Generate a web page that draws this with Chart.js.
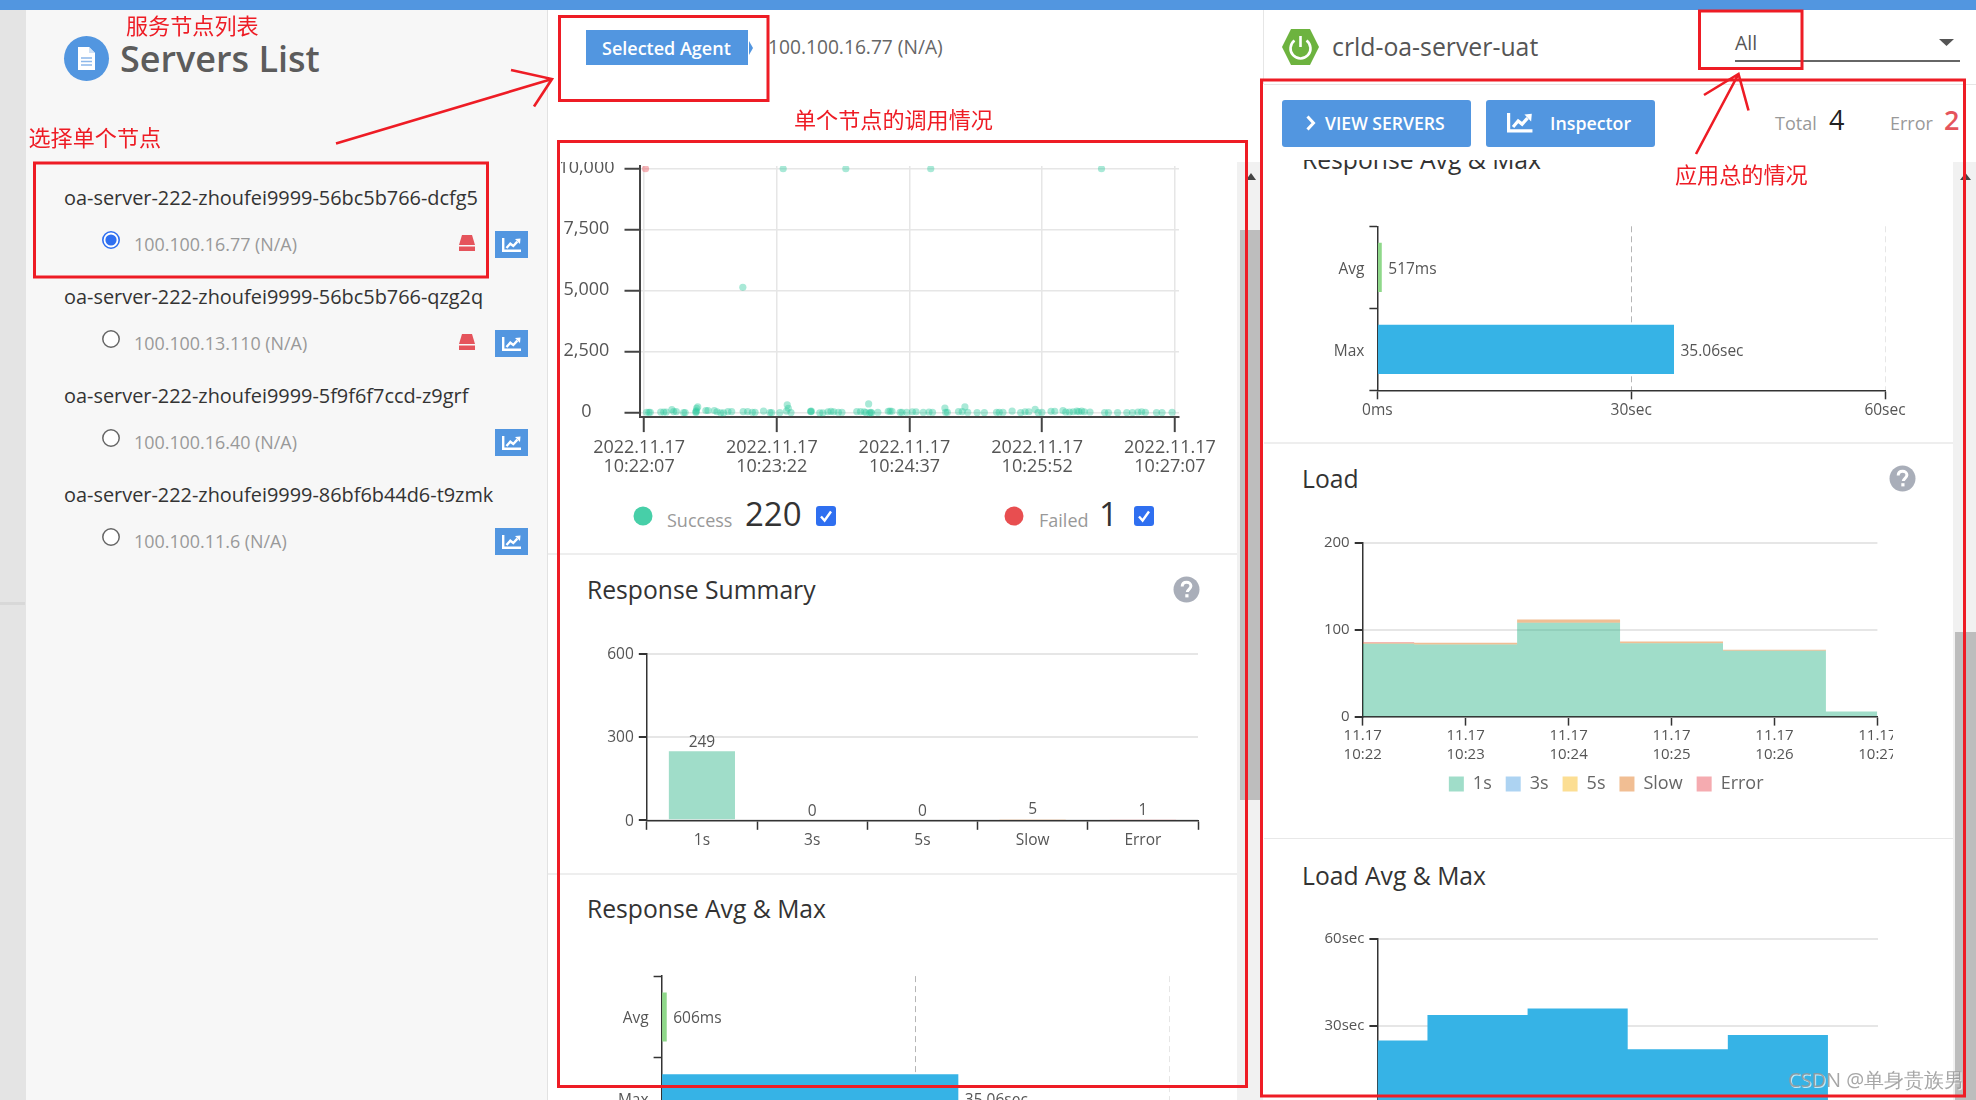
<!DOCTYPE html>
<html lang="en">
<head>
<meta charset="utf-8">
<title>Servers List</title>
<script src="https://cdn.jsdelivr.net/npm/chart.js@4/dist/chart.umd.min.js"></script>
<style>
  html, body { margin: 0; padding: 0; background: #fff; overflow: hidden; }
  #page { position: relative; width: 1976px; height: 1100px; overflow: hidden; background: #fff;
          font-family: 'Open Sans', sans-serif; color: #333; }
  .box { position: absolute; }
  .t { position: absolute; white-space: nowrap; line-height: 1; transform: translateY(-50%); }
  .title { font-size: 24.7px; font-weight: 500; color: #333; }
  .red { color: #ee1c25; font-size: 22.1px; font-family: 'Noto Sans CJK SC', sans-serif; }
  canvas { position: absolute; }
  svg { position: absolute; overflow: visible; }
</style>
</head>
<body>
<div id="page">
  <!-- ── PANELS ─────────────────────────────────────────── -->
  <div class="box" style="left:0;top:0;width:26px;height:1100px;background:#e4e4e4"></div>
  <div class="box" style="left:0;top:602px;width:25px;height:3px;background:#d8d8d8"></div>
  <div class="box" style="left:26px;top:0;width:521px;height:1100px;background:#f7f7f7"></div>
  <div class="box" style="left:547px;top:0;width:1px;height:1100px;background:#e2e2e2"></div>
  <div class="box" style="left:1263px;top:0;width:1px;height:84px;background:#e6e6e6"></div>
  <div class="box" style="left:1264px;top:84px;width:712px;height:1px;background:#e6e6e6"></div>
  <div class="box" style="left:548px;top:553px;width:689px;height:2px;background:#eee"></div>
  <div class="box" style="left:548px;top:873px;width:689px;height:2px;background:#eee"></div>
  <div class="box" style="left:1264px;top:442px;width:689px;height:2px;background:#eee"></div>
  <div class="box" style="left:1264px;top:838px;width:689px;height:1px;background:#e8e8e8"></div>

  <!-- scrollbars -->
  <div class="box" style="left:1237px;top:162px;width:26px;height:938px;background:#f1f1f1"></div>
  <div class="box" style="left:1240px;top:230px;width:22px;height:570px;background:#bdbdbd"></div>
  <div class="box" style="left:1953px;top:162px;width:23px;height:938px;background:#f1f1f1"></div>
  <div class="box" style="left:1955px;top:632px;width:21px;height:468px;background:#bdbdbd"></div>
  <svg style="left:0;top:0" width="1976" height="1100">
    <polygon points="1246,180 1256,180 1251,173" fill="#444"/>
    <polygon points="1960,180 1971,180 1965.5,173" fill="#444"/>
  </svg>

  <!-- top bar -->
  <div class="box" style="left:0;top:0;width:1976px;height:10px;background:#5296e0"></div>

  <!-- ── LEFT COLUMN ────────────────────────────────────── -->
  <svg style="left:64px;top:36px" width="45" height="45" viewBox="0 0 45 45">
    <circle cx="22.5" cy="22.5" r="22.5" fill="#5296e0"/>
    <path d="M14 11h11l6 6v17H14z" fill="#fff"/>
    <path d="M25 11v6h6" fill="#cfe1f6"/>
    <path d="M17 22h11M17 25.5h11M17 29h11" stroke="#8db8ea" stroke-width="1.4"/>
  </svg>
  <div class="t" style="left:120px;top:59px;font-size:36px;font-weight:600;color:#5c5c5c">Servers List</div>
  <div id="serverRows"></div>

  <!-- ── MIDDLE COLUMN ──────────────────────────────────── -->
  <div class="box" style="left:586px;top:30px;width:162px;height:35px;background:#5296e0"></div>
  <svg style="left:748px;top:41px" width="6" height="14"><polygon points="1,0 5,7 1,14" fill="#5296e0"/></svg>
  <div class="t" style="left:602px;top:47.5px;font-size:18px;font-weight:600;color:#fff">Selected Agent</div>
  <div class="t" style="left:768px;top:47px;font-size:19.2px;color:#666">100.100.16.77 (N/A)</div>

  <canvas id="chart-scatter" width="669" height="315" style="left:561px;top:162px;filter:blur(.6px)"></canvas>

  <svg style="left:634px;top:506px" width="20" height="20"><circle cx="9" cy="10" r="9.5" fill="#47cfa8"/></svg>
  <div class="t" style="left:667px;top:520px;font-size:18px;color:#999">Success</div>
  <div class="t" style="left:745px;top:513px;font-size:33px;color:#333">220</div>
  <svg style="left:816px;top:506px" width="20" height="20"><use href="#icon-check"/></svg>
  <svg style="left:1005px;top:506px" width="20" height="20"><circle cx="9" cy="10" r="9.5" fill="#e84e50"/></svg>
  <div class="t" style="left:1039px;top:520px;font-size:18px;color:#999">Failed</div>
  <div class="t" style="left:1099px;top:513px;font-size:33px;color:#333">1</div>
  <svg style="left:1134px;top:506px" width="20" height="20"><use href="#icon-check"/></svg>

  <div class="t title" style="left:587px;top:590px">Response Summary</div>
  <svg style="left:1173px;top:576px" width="27" height="27"><use href="#icon-help"/></svg>
  <canvas id="chart-summary" width="630" height="220" style="left:600px;top:640px"></canvas>

  <div class="t title" style="left:587px;top:909px">Response Avg &amp; Max</div>
  <canvas id="chart-agent-avg" width="630" height="210" style="left:600px;top:970px"></canvas>

  <!-- ── RIGHT COLUMN ───────────────────────────────────── -->
  <svg style="left:1282px;top:29px" width="37" height="36" viewBox="0 0 37 36">
    <polygon points="9,0 28,0 37,18 28,36 9,36 0,18" fill="#6db33f"/>
    <path d="M12.5 11.5a10 10 0 1 0 12 0" fill="none" stroke="#fff" stroke-width="2.6"/>
    <path d="M18.5 7v11" stroke="#fff" stroke-width="2.6"/>
  </svg>
  <div class="t" style="left:1332px;top:46px;font-size:24.8px;font-weight:500;color:#555">crld-oa-server-uat</div>
  <div class="t" style="left:1735px;top:43px;font-size:19.5px;color:#555">All</div>
  <div class="box" style="left:1735px;top:60px;width:225px;height:2px;background:#666"></div>
  <svg style="left:1939px;top:39px" width="15" height="8"><polygon points="0,0 15,0 7.5,7" fill="#555"/></svg>

  <div class="box" style="left:1282px;top:100px;width:189px;height:47px;background:#5296e0;border-radius:3px"></div>
  <svg style="left:1305px;top:115px" width="11" height="16"><path d="M2.5 1.5l6 6.5-6 6.5" fill="none" stroke="#fff" stroke-width="3"/></svg>
  <div class="t" style="left:1325px;top:124px;font-size:17.6px;font-weight:600;color:#fff">VIEW SERVERS</div>
  <div class="box" style="left:1486px;top:100px;width:169px;height:47px;background:#5296e0;border-radius:3px"></div>
  <svg style="left:1507px;top:113px" width="26" height="20"><use href="#icon-chart-line" transform="scale(1.34,1.4)"/></svg>
  <div class="t" style="left:1550px;top:124px;font-size:17.8px;font-weight:600;color:#fff">Inspector</div>
  <div class="t" style="left:1775px;top:123px;font-size:18px;color:#999">Total</div>
  <div class="t" style="left:1829px;top:119px;font-size:27px;color:#222">4</div>
  <div class="t" style="left:1890px;top:123px;font-size:18px;color:#999">Error</div>
  <div class="t" style="left:1944px;top:119px;font-size:27px;font-weight:600;color:#e5545c">2</div>

  <div class="box" style="left:1264px;top:159.5px;width:680px;height:30px;overflow:hidden">
    <div class="t title" style="left:38px;top:0">Response Avg &amp; Max</div>
  </div>
  <canvas id="chart-app-avg" width="630" height="215" style="left:1310px;top:215px"></canvas>

  <div class="t title" style="left:1302px;top:479px">Load</div>
  <svg style="left:1889px;top:465px" width="27" height="27"><use href="#icon-help"/></svg>
  <canvas id="chart-load" width="584" height="274" style="left:1309px;top:530px"></canvas>

  <div class="t title" style="left:1302px;top:875.5px">Load Avg &amp; Max</div>
  <canvas id="chart-load-avg" width="630" height="228" style="left:1310px;top:925px"></canvas>

  <!-- ── RED NOTES ──────────────────────────────────────── -->
  <svg style="left:0;top:0" width="1976" height="1100" fill="none" stroke="#ee1c25" stroke-width="3">
    <rect x="34.5" y="163" width="453" height="114"/>
    <rect x="559.5" y="16.5" width="208.5" height="84"/>
    <rect x="558.5" y="141.5" width="688" height="945"/>
    <rect x="1261.5" y="80" width="703" height="1016"/>
    <rect x="1699.5" y="11" width="102.5" height="57.5"/>
    <path d="M336 143.5L552 79M511 70L552 79L534 106.5" stroke-width="2.6"/>
    <path d="M1696 154L1738.5 74M1704 95L1738.5 74L1748.5 110.5" stroke-width="2.6"/>
  </svg>
  <div class="t red" style="left:126px;top:24px">服务节点列表</div>
  <div class="t red" style="left:28.5px;top:136px">选择单个节点</div>
  <div class="t red" style="left:794px;top:118px">单个节点的调用情况</div>
  <div class="t red" style="left:1675px;top:173px">应用总的情况</div>

  <div class="t" style="left:1788px;top:1080px;font-size:20px;color:rgba(150,150,150,.85);text-shadow:1px 1px 0 rgba(255,255,255,.7)">CSDN @单身贵族男</div>

  <!-- shared icons -->
  <svg width="0" height="0" style="left:0;top:0">
    <defs>
      <g id="icon-chart-line" fill="none" stroke="#fff">
        <path d="M1.2 0v12.8h17.8" stroke-width="2.4"/>
        <path d="M4.5 10l3.8-4.3 3 2.3 4-4.4" stroke-width="2.4"/>
        <polygon points="13,1 18.5,0.6 18,6" fill="#fff" stroke="none"/>
      </g>
      <g id="icon-check">
        <rect width="20" height="20" rx="3" fill="#2f6ff0"/>
        <path d="M5 10.5l3.6 4L15 5.5" fill="none" stroke="#fff" stroke-width="2.4"/>
      </g>
      <g id="icon-help">
        <circle cx="13.5" cy="13.5" r="13" fill="#a9aeb9"/>
        <path d="M9.2 10.5c0-2.8 2-4.2 4.4-4.2s4.3 1.4 4.3 3.8c0 3.2-3.6 3.3-3.6 6" fill="none" stroke="#fff" stroke-width="3"/>
        <rect x="12.3" y="18.2" width="3.2" height="3.2" fill="#fff"/>
      </g>
    </defs>
  </svg>
</div>

<script>
'use strict';

// ── SERVER LIST ──────────────────────────────────────────────────────────────
const serverNames = [
  'oa-server-222-zhoufei9999-56bc5b766-dcfg5',
  'oa-server-222-zhoufei9999-56bc5b766-qzg2q',
  'oa-server-222-zhoufei9999-5f9f6f7ccd-z9grf',
  'oa-server-222-zhoufei9999-86bf6b44d6-t9zmk',
];
const serverIps = ['100.100.16.77 (N/A)', '100.100.13.110 (N/A)', '100.100.16.40 (N/A)', '100.100.11.6 (N/A)'];
const serverHasError = [true, true, false, false];

// ── SCATTER DATA (seconds after 10:22:07, response ms) ───────────────────────
const successSeconds = [
  1.4, 2.7, 3.5, 9.4, 11.1, 12.5, 15.7, 16.7, 18.2, 22.3, 23.2, 29.3, 29.3, 29.5, 29.7, 30.3,
  34.9, 36.1, 39.7, 41.2, 43.3, 44.9, 47.4, 49.5, 55.8, 56, 58.5, 61.2, 62.7, 67.5, 71.1, 72.1,
  76.7, 78.6, 80.5, 80.9, 81.5, 83, 94.1, 94.3, 94.5, 99.3, 101, 103.9, 105.6, 107.2, 109.8, 111.8,
  114, 120.2, 122.3, 124.4, 125.4, 126.9, 127.5, 128.1, 128.6, 132.1, 138, 139, 140.1, 144.7, 145.7,
  148.4, 151.6, 153.7, 157.8, 161, 162, 163, 170, 170.4, 171.4, 177.7, 179.8, 181.3, 182.9, 188.2,
  192.3, 199.2, 200.7, 202.8, 208, 212.8, 215.3, 217.4, 221, 222.7, 224.8, 230, 232.1, 236.7, 238.3,
  240.4, 242.5, 244.6, 245.7, 247.3, 248.8, 252, 258.5, 260.3, 262.4, 267.6, 272.8, 276, 279.1,
  281.2, 283.3, 289.6, 292.7, 298.4,
];
const successMillis = [
  40, 40, 40, 50, 50, 50, 150, 70, 70, 30, 30, 30, 60, 100, 200, 260,
  110, 110, 110, 60, 20, 20, 70, 70, 5150, 70, 70, 40, 40, 90, 30, 30,
  30, 10000, 90, 340, 200, 30, 80, 60, 90, 20, 20, 60, 80, 60, 40, 40,
  10000, 70, 70, 60, 30, 380, 20, 40, 20, 40, 80, 90, 80, 40, 40,
  40, 60, 60, 40, 50, 10000, 40, 210, 40, 40, 70, 70, 260, 40, 30,
  30, 40, 40, 40, 90, 30, 60, 60, 160, 30, 40, 80, 80, 110, 50,
  50, 60, 90, 70, 90, 60, 50, 10000, 30, 30, 30, 30, 30, 50,
  60, 40, 30, 30, 40,
];
const failedSeconds = [0.8];
const failedMillis = [10000];
const scatterTickSeconds = [0, 75, 150, 225, 300];
const scatterTickTimes = ['10:22:07', '10:23:22', '10:24:37', '10:25:52', '10:27:07'];
const scatterTickValues = [0, 2500, 5000, 7500, 10000];

// ── RESPONSE SUMMARY ─────────────────────────────────────────────────────────
const summaryCategories = ['1s', '3s', '5s', 'Slow', 'Error'];
const summaryValues = [249, 0, 0, 5, 1];

// ── AVG & MAX (seconds) ──────────────────────────────────────────────────────
const avgMaxCategories = ['Avg', 'Max'];
const agentAvgMax = [0.606, 35.06];
const agentAvgMaxText = ['606ms', '35.06sec'];
const appAvgMax = [0.517, 35.06];
const appAvgMaxText = ['517ms', '35.06sec'];

// ── LOAD ─────────────────────────────────────────────────────────────────────
const loadTimes = ['10:22', '10:23', '10:24', '10:25', '10:26', '10:27'];
const load1s = [84, 83, 108, 84.5, 75.7, 6];
const load3s = [0, 0, 0, 0, 0, 0];
const load5s = [0, 0, 0, 0, 0, 0];
const loadSlow = [1, 2, 3.7, 2, 1.3, 0];
const loadError = [1, 0, 0, 0, 0, 0];
const loadMaxSeconds = [25, 33.75, 36, 22, 26.9, 2];

// ── SHARED THEME ─────────────────────────────────────────────────────────────
const AXIS_COLOR = '#333';
const GRID_COLOR = '#e6e6e6';
const TICK_COLOR = '#555';
const SUMMARY_COLORS = ['#a0ddc9', '#acd5f0', '#fddc8f', '#efb07a', 'rgba(244, 169, 174, 0.3)'];

Chart.defaults.font.family = "'Open Sans', sans-serif";
Chart.defaults.color = TICK_COLOR;
Chart.defaults.animation = false;
Chart.defaults.responsive = false;
Chart.defaults.devicePixelRatio = 1;
Chart.defaults.plugins.legend.display = false;
Chart.defaults.plugins.tooltip.enabled = false;

// The axes keep a fixed size so each plot lands where the page wants it
function fixAxisSize(size) {
  return scale => {
    if (scale.isHorizontal()) scale.height = size;
    else scale.width = size;
    scale.paddingLeft = scale.paddingRight = scale.paddingTop = scale.paddingBottom = 0;
  };
}

function setTicks(values) {
  return scale => { scale.ticks = values.map(value => ({ value })); };
}

// Writes a text beside each bar, from the bar's own position
function barTextPlugin(texts, horizontal) {
  return {
    id: 'barText',
    afterDatasetsDraw(chart) {
      const { ctx } = chart;
      ctx.save();
      ctx.font = "15.5px 'Open Sans'";
      ctx.fillStyle = TICK_COLOR;
      ctx.textBaseline = 'middle';
      chart.getDatasetMeta(0).data.forEach((bar, i) => {
        ctx.textAlign = horizontal ? 'left' : 'center';
        if (horizontal) ctx.fillText(texts[i], bar.x + 6.5, bar.y + 2);
        else ctx.fillText(texts[i], bar.x, bar.y - 9);
      });
      ctx.restore();
    },
  };
}

// Moves the legend off the canvas centre to sit where the page has it
const legendNudgePlugin = {
  id: 'legendNudge',
  afterLayout(chart) {
    chart.legend.left += 13;
    chart.legend.right += 13;
    chart.legend.top -= 1;
    chart.legend.bottom -= 1;
  },
};

// ── SERVER ROWS ──────────────────────────────────────────────────────────────
function renderServerRows() {
  const rows = serverNames.map((name, i) => {
    const top = 99 * i;
    const radio = i === 0
      ? '<circle cx="10" cy="10" r="8.2" fill="#fff" stroke="#2f6ff0" stroke-width="1.6"/><circle cx="10" cy="10" r="5.6" fill="#2f6ff0"/>'
      : '<circle cx="10" cy="10" r="8.2" fill="#fff" stroke="#666" stroke-width="1.5"/>';
    const disk = serverHasError[i]
      ? `<svg style="left:459px;top:${235 + top}px" width="16" height="16"><path d="M3 0h10l3 10H0z" fill="#e5545c"/><rect y="11.5" width="16" height="4.5" fill="#e5545c"/></svg>`
      : '';
    return `
      <div class="t" style="left:64px;top:${197.5 + top}px;font-size:19.9px;color:#333">${name}</div>
      <svg style="left:101px;top:${230 + top}px" width="20" height="20">${radio}</svg>
      <div class="t" style="left:134px;top:${244.5 + top}px;font-size:17.9px;color:#999">${serverIps[i]}</div>
      ${disk}
      <div class="box" style="left:495px;top:${231 + top}px;width:33px;height:27px;background:#5296e0"></div>
      <svg style="left:502px;top:${237.5 + top}px" width="20" height="14"><use href="#icon-chart-line"/></svg>`;
  });
  document.getElementById('serverRows').innerHTML = rows.join('');
}

// ── CHART 1 — SCATTER: calls of the selected agent ───────────────────────────
function renderScatterChart() {
  new Chart(document.getElementById('chart-scatter'), {
    type: 'scatter',
    data: {
      datasets: [
        {
          data: successSeconds.map((x, i) => ({ x, y: successMillis[i] })),
          pointRadius: 3.6,
          pointBorderWidth: 0,
          pointBackgroundColor: 'rgba(40, 200, 155, 0.4)',
        },
        {
          data: failedSeconds.map((x, i) => ({ x, y: failedMillis[i] })),
          pointRadius: 3.6,
          pointBorderWidth: 0,
          pointBackgroundColor: 'rgba(235, 80, 90, 0.42)',
        },
      ],
    },
    options: {
      layout: { padding: { top: 1.6, right: 51 } },
      scales: {
        x: {
          type: 'linear', min: -2.6, max: 302.3,
          afterBuildTicks: setTicks(scatterTickSeconds),
          afterFit: fixAxisSize(59.9),
          border: { color: '#444', width: 2 },
          grid: { color: GRID_COLOR, lineWidth: 1.5, tickColor: '#444', tickWidth: 2, tickLength: 15 },
          ticks: {
            autoSkip: false, maxRotation: 0, padding: 6.5, labelOffset: -5,
            font: { size: 18, lineHeight: 1.03 },
            callback: (value, i) => ['2022.11.17', scatterTickTimes[i]],
          },
        },
        y: {
          min: -158, max: 10113,
          afterBuildTicks: setTicks(scatterTickValues),
          afterFit: fixAxisSize(78.5),
          border: { color: '#444', width: 2 },
          grid: { color: GRID_COLOR, lineWidth: 1.5, tickColor: '#444', tickWidth: 2, tickLength: 15 },
          ticks: {
            autoSkip: false, padding: 10, crossAlign: 'center', labelOffset: -1,
            font: { size: 18 },
            callback: value => value.toLocaleString('en-US'),
          },
        },
      },
    },
  });
}

// ── CHART 2 — BAR: Response Summary ──────────────────────────────────────────
function renderSummaryChart() {
  new Chart(document.getElementById('chart-summary'), {
    type: 'bar',
    data: {
      labels: summaryCategories,
      datasets: [{
        data: summaryValues,
        backgroundColor: SUMMARY_COLORS,
        categoryPercentage: 0.6,
        barPercentage: 1,
      }],
    },
    plugins: [barTextPlugin(summaryValues, false)],
    options: {
      layout: { padding: { top: 13.7, right: 32 } },
      scales: {
        x: {
          z: -1,
          afterFit: fixAxisSize(39.7),
          border: { color: AXIS_COLOR, width: 1.5 },
          grid: { drawOnChartArea: false, offset: true, tickColor: AXIS_COLOR, tickWidth: 1.5, tickLength: 9.5 },
          ticks: { padding: 1, font: { size: 15.5 } },
        },
        y: {
          min: 0, max: 600,
          afterBuildTicks: setTicks([0, 300, 600]),
          afterFit: fixAxisSize(46.8),
          border: { color: AXIS_COLOR, width: 1.5 },
          grid: { color: GRID_COLOR, lineWidth: 2, tickColor: AXIS_COLOR, tickWidth: 2, tickLength: 8 },
          ticks: { padding: 5, labelOffset: 1, font: { size: 15.5 } },
        },
      },
    },
  });
}

// ── CHART 3, 4 — HORIZONTAL BAR: Avg & Max ───────────────────────────────────
function renderAvgMaxChart(canvasId, values, texts, frame) {
  new Chart(document.getElementById(canvasId), {
    type: 'bar',
    data: {
      labels: avgMaxCategories,
      datasets: [{
        data: values,
        backgroundColor: ['#8fd88a', '#36b3e6'],
        categoryPercentage: 0.6,
        barPercentage: 1,
      }],
    },
    plugins: [barTextPlugin(texts, true)],
    options: {
      indexAxis: 'y',
      layout: { padding: { top: frame.top, right: frame.right } },
      scales: {
        x: {
          min: 0, max: 60,
          afterBuildTicks: setTicks([0, 30, 60]),
          afterFit: fixAxisSize(frame.axisHeight),
          border: { color: AXIS_COLOR, width: 1.5, dash: [6, 4] },
          grid: {
            color: ctx => (ctx.tick.value === 30 ? '#b5b5b5' : ctx.tick.value === 60 ? '#e6e6e6' : 'transparent'),
            tickColor: AXIS_COLOR, tickWidth: 1.5, tickLength: 9,
          },
          ticks: {
            padding: 2, font: { size: 15.5 },
            callback: value => (value === 0 ? '0ms' : value + 'sec'),
          },
        },
        y: {
          afterFit: fixAxisSize(67.4 - frame.shift),
          border: { color: AXIS_COLOR, width: 1.5 },
          grid: { drawOnChartArea: false, offset: true, tickColor: AXIS_COLOR, tickWidth: 1.5, tickLength: 8 },
          ticks: { padding: 5, labelOffset: 2, font: { size: 15.5 } },
        },
      },
    },
  });
}

// ── CHART 5 — STACKED STEP AREA: Load ────────────────────────────────────────
function renderLoadChart() {
  const series = [
    { label: '1s', data: load1s, color: 'rgba(44, 179, 135, 0.45)', fill: 'origin' },
    { label: '3s', data: load3s, color: 'rgba(60, 150, 225, 0.42)', fill: '-1' },
    { label: '5s', data: load5s, color: 'rgba(250, 190, 40, 0.5)', fill: '-1' },
    { label: 'Slow', data: loadSlow, color: 'rgba(228, 125, 40, 0.5)', fill: '-1' },
    { label: 'Error', data: loadError, color: 'rgba(235, 80, 90, 0.48)', fill: '-1' },
  ];
  new Chart(document.getElementById('chart-load'), {
    type: 'line',
    data: {
      labels: loadTimes,
      datasets: series.map(s => ({
        label: s.label,
        data: s.data,
        stepped: 'middle',
        fill: s.fill,
        borderWidth: 0,
        pointRadius: 0,
        backgroundColor: s.color,
      })),
    },
    plugins: [legendNudgePlugin],
    options: {
      layout: { padding: { top: 12.9, right: 15.6 } },
      plugins: {
        legend: {
          display: true,
          position: 'bottom',
          labels: { boxWidth: 15, boxHeight: 15, padding: 14, font: { size: 18 }, color: '#666' },
        },
      },
      scales: {
        x: {
          offset: false,
          afterFit: fixAxisSize(45.4),
          border: { color: AXIS_COLOR, width: 1.5 },
          grid: { drawOnChartArea: false, tickColor: AXIS_COLOR, tickWidth: 1.5, tickLength: 9 },
          ticks: {
            autoSkip: false, maxRotation: 0, padding: 0,
            font: { size: 15, lineHeight: 1.3 },
            callback(value) { return ['11.17', this.getLabelForValue(value)]; },
          },
        },
        y: {
          stacked: true, min: 0, max: 200,
          afterBuildTicks: setTicks([0, 100, 200]),
          afterFit: fixAxisSize(53.7),
          border: { color: AXIS_COLOR, width: 1.5 },
          grid: { color: GRID_COLOR, lineWidth: 2, tickColor: AXIS_COLOR, tickWidth: 2, tickLength: 8 },
          ticks: { padding: 5, font: { size: 15 } },
        },
      },
    },
  });
}

// ── CHART 6 — STEP AREA: Load Avg & Max ──────────────────────────────────────
function renderLoadAvgChart() {
  new Chart(document.getElementById('chart-load-avg'), {
    type: 'line',
    data: {
      labels: loadTimes,
      datasets: [{
        data: loadMaxSeconds,
        stepped: 'middle',
        fill: 'origin',
        borderWidth: 0,
        pointRadius: 0,
        backgroundColor: '#36b3e6',
      }],
    },
    options: {
      layout: { padding: { top: 13.8, right: 62 } },
      scales: {
        x: {
          offset: false,
          afterFit: fixAxisSize(40),
          border: { color: AXIS_COLOR, width: 1.5 },
          grid: { drawOnChartArea: false, tickColor: AXIS_COLOR, tickWidth: 1.5, tickLength: 9 },
          ticks: { autoSkip: false, maxRotation: 0, font: { size: 15 } },
        },
        y: {
          min: 0, max: 60,
          afterBuildTicks: setTicks([0, 30, 60]),
          afterFit: fixAxisSize(67.4),
          border: { color: AXIS_COLOR, width: 1.5 },
          grid: { color: GRID_COLOR, lineWidth: 2, tickColor: AXIS_COLOR, tickWidth: 2, tickLength: 8 },
          ticks: {
            padding: 5, font: { size: 15 },
            callback: value => (value === 0 ? '0ms' : value + 'sec'),
          },
        },
      },
    },
  });
}

// ── RENDER ALL ───────────────────────────────────────────────────────────────
renderServerRows();
renderScatterChart();
renderSummaryChart();
renderAvgMaxChart('chart-agent-avg', agentAvgMax, agentAvgMaxText,
  { top: 6.1, right: 60.6, axisHeight: 40.4, shift: 5.8 });
renderAvgMaxChart('chart-app-avg', appAvgMax, appAvgMaxText,
  { top: 11.3, right: 55, axisHeight: 39.7, shift: 0 });
renderLoadChart();
renderLoadAvgChart();
</script>
</body>
</html>
